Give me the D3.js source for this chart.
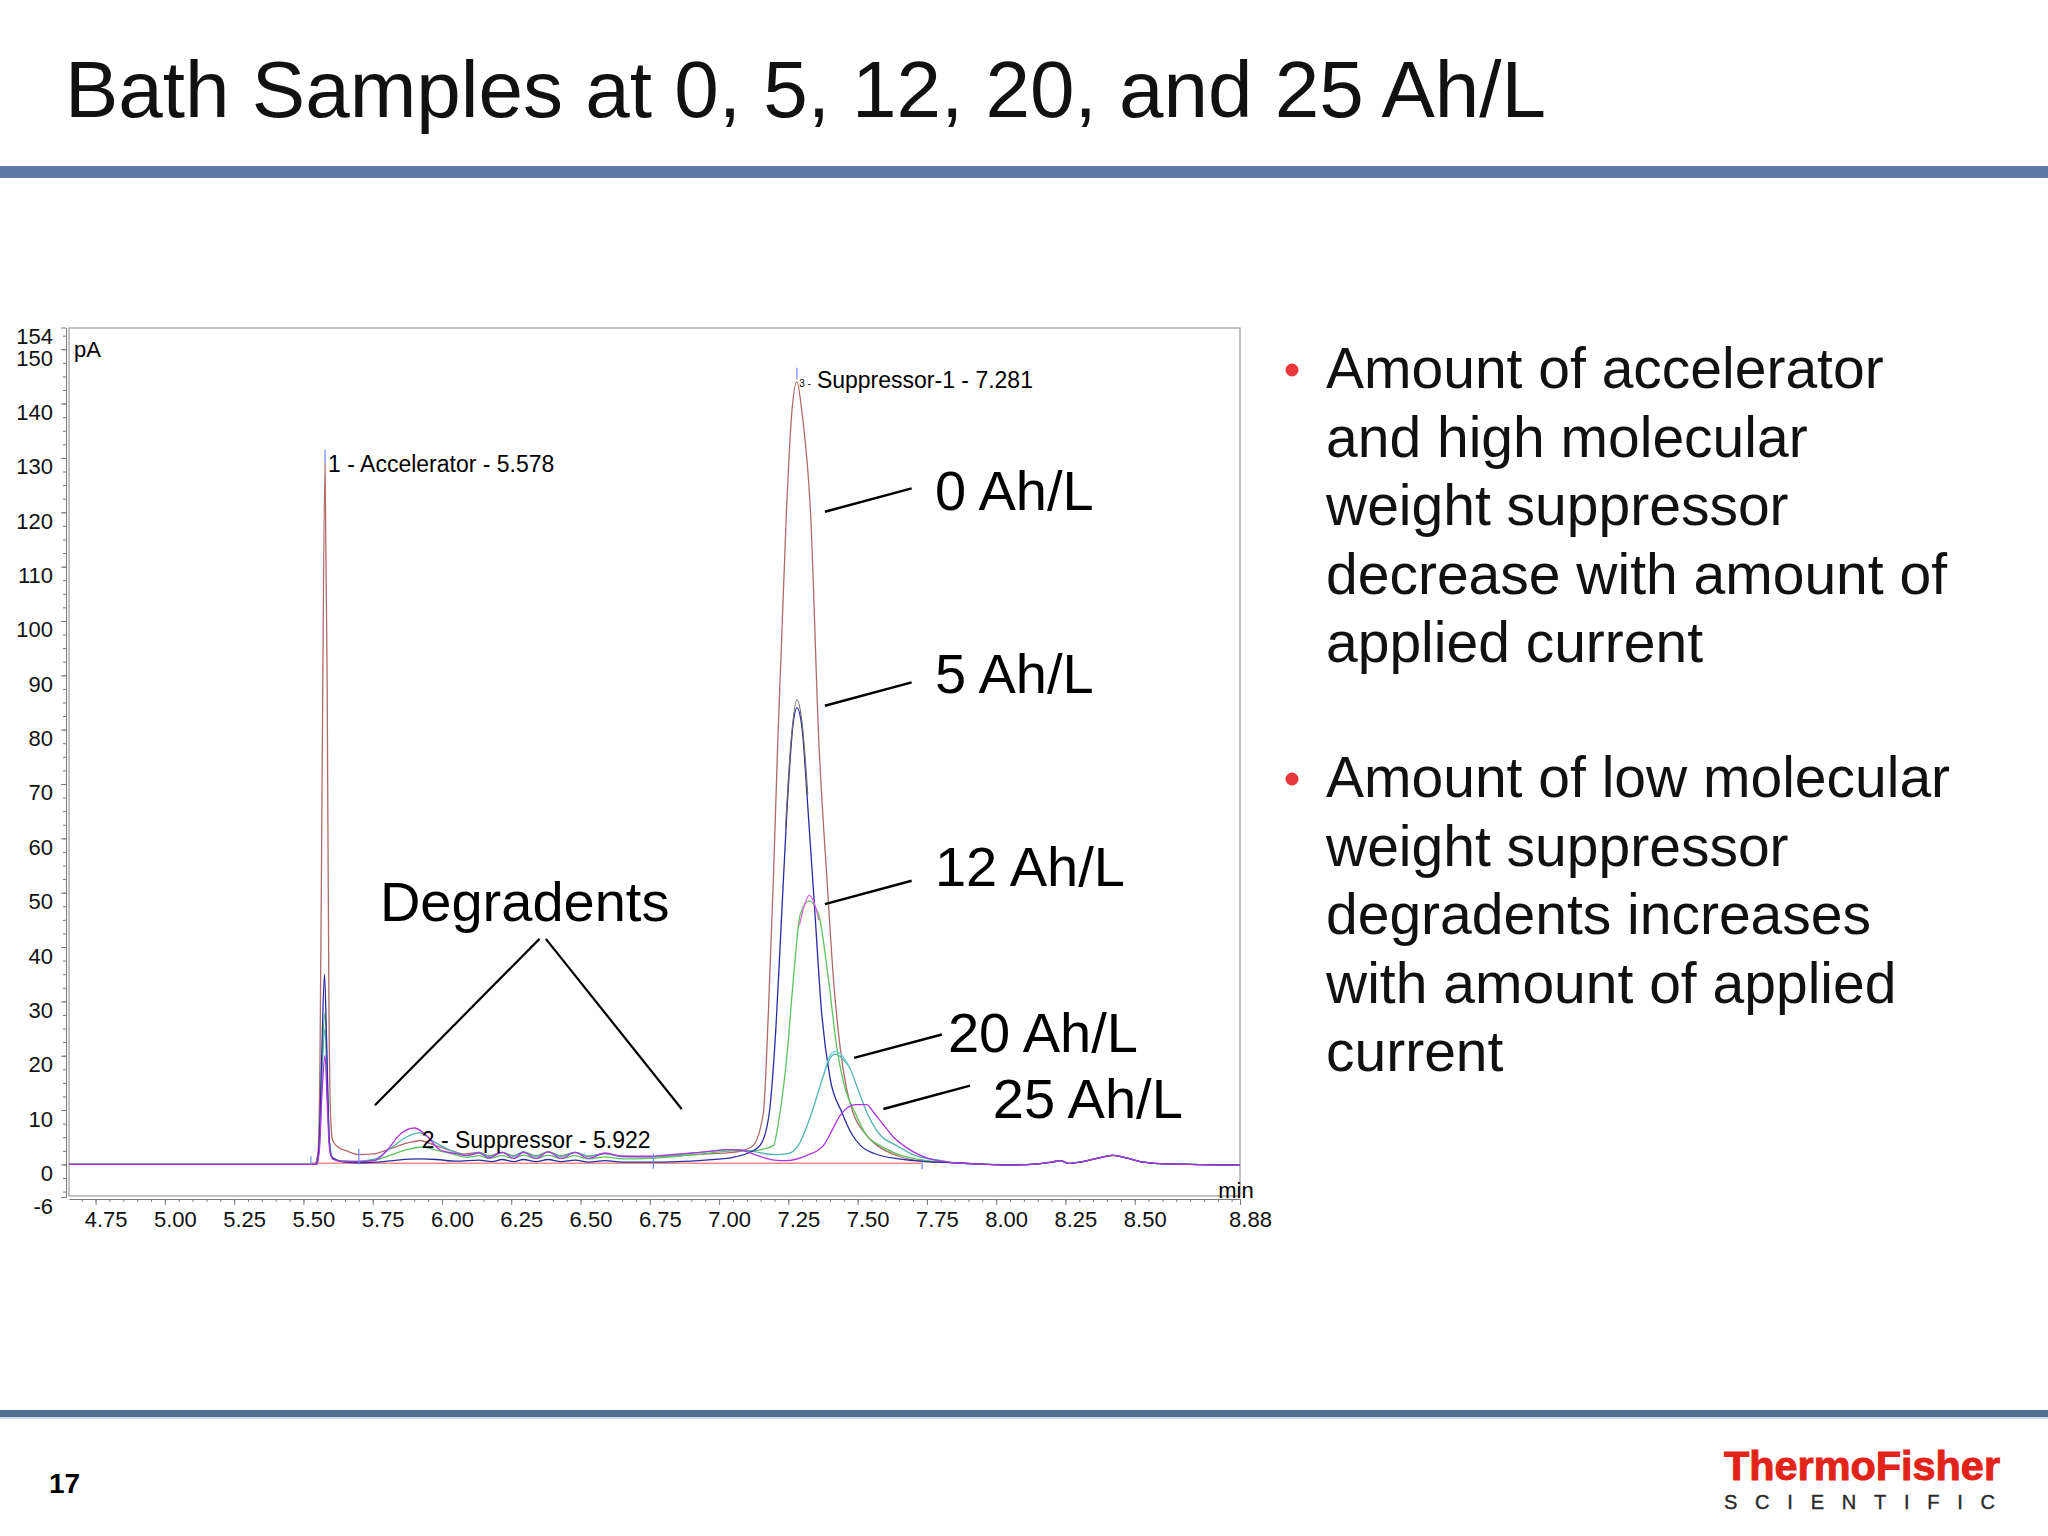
<!DOCTYPE html>
<html>
<head>
<meta charset="utf-8">
<script src="https://cdn.jsdelivr.net/npm/d3@7/dist/d3.min.js"></script>
<style>
  body { margin: 0; background: #fff; }
  svg { display: block; font-family: "Liberation Sans", Arial, sans-serif; }
</style>
</head>
<body>
<div id="chart"></div>
<script>
// flat start shared by every trace, and the late part where all traces overlap
let lead = [[4.654, 0], [5.30, 0], [5.53, 0]];
let tail = [[7.85, 0.3], [7.95, 0.05], [8.05, -0.1], [8.15, 0.1], [8.20, 0.4], [8.231, 0.7], [8.26, 0.2],
            [8.32, 0.6], [8.38, 1.3], [8.424, 1.65], [8.47, 1.2], [8.53, 0.4], [8.57, 0.2], [8.70, 0], [8.88, -0.1]];

// 0 Ah/L
let s0 = [[5.54, 0], [5.552, 2], [5.560, 20], [5.568, 75], [5.578, 129], [5.586, 85], [5.592, 30], [5.598, 9],
          [5.605, 4.5], [5.62, 3.4], [5.66, 2.4], [5.70, 1.8], [5.76, 2.0], [5.82, 3.0], [5.88, 4.0], [5.92, 4.4],
          [5.97, 3.6], [6.03, 2.6], [6.08, 1.9], [6.134, 2.2], [6.17, 1.6], [6.217, 2.2], [6.26, 1.6], [6.293, 2.3],
          [6.34, 1.6], [6.383, 2.3], [6.43, 1.6], [6.48, 2.2], [6.53, 1.5], [6.589, 2.0], [6.65, 1.5], [6.75, 1.4],
          [6.85, 1.6], [6.95, 1.9], [7.05, 2.2], [7.10, 2.8], [7.124, 3.5], [7.16, 9.6], [7.178, 28], [7.196, 52.5],
          [7.212, 78], [7.243, 120], [7.262, 138], [7.281, 144], [7.30, 138], [7.33, 120], [7.36, 78], [7.39, 52],
          [7.413, 34], [7.437, 21.5], [7.46, 14], [7.483, 9.6], [7.53, 5.5], [7.57, 3.5], [7.65, 1.5], [7.75, 0.5]];

// 5 Ah/L
let s5 = [[5.545, 0], [5.556, 3], [5.566, 20], [5.576, 35], [5.584, 22], [5.592, 6], [5.60, 1.5], [5.62, 0.8],
          [5.65, 0.4], [5.70, 0.3], [5.76, 0.4], [5.84, 0.8], [5.92, 1.0], [5.98, 0.9], [6.05, 0.6], [6.134, 0.8],
          [6.18, 0.5], [6.217, 0.9], [6.26, 0.5], [6.293, 0.9], [6.34, 0.5], [6.383, 0.9], [6.43, 0.5], [6.48, 0.8],
          [6.53, 0.4], [6.589, 0.7], [6.65, 0.4], [6.75, 0.4], [6.85, 0.5], [6.95, 0.8], [7.05, 1.3], [7.10, 2.0],
          [7.148, 3.5], [7.18, 9], [7.205, 25], [7.225, 45], [7.245, 65], [7.265, 80], [7.281, 84], [7.30, 80],
          [7.32, 66], [7.345, 47], [7.37, 28], [7.40, 16], [7.443, 9.6], [7.48, 5.5], [7.51, 3.5], [7.56, 2],
          [7.65, 1], [7.75, 0.5]];

// 12 Ah/L
let s12 = [[5.548, 0], [5.558, 4], [5.568, 20], [5.578, 28], [5.586, 16], [5.594, 4], [5.605, 1.2], [5.63, 0.7],
           [5.70, 0.5], [5.76, 0.8], [5.82, 1.8], [5.88, 2.8], [5.93, 3.2], [5.98, 2.6], [6.04, 1.9], [6.09, 1.3],
           [6.134, 1.6], [6.17, 1.1], [6.217, 1.6], [6.26, 1.1], [6.293, 1.7], [6.34, 1.1], [6.383, 1.7], [6.43, 1.1],
           [6.48, 1.6], [6.53, 1.0], [6.589, 1.4], [6.65, 1.0], [6.75, 1.1], [6.85, 1.5], [6.95, 2.0], [7.05, 2.5],
           [7.12, 2.5], [7.16, 2.8], [7.196, 3.5], [7.22, 9.6], [7.245, 20], [7.268, 34], [7.293, 46], [7.325, 48.5],
           [7.359, 46], [7.395, 34], [7.425, 21.5], [7.455, 14], [7.49, 9.6], [7.53, 5.5], [7.58, 3.5], [7.65, 1.8],
           [7.75, 0.7]];

// 20 Ah/L
let s20 = [[5.548, 0], [5.558, 4], [5.568, 18], [5.578, 25], [5.586, 14], [5.594, 4], [5.605, 1.2], [5.63, 0.6],
           [5.70, 0.6], [5.76, 1.0], [5.82, 3.2], [5.87, 5.0], [5.92, 5.8], [5.97, 4.2], [6.03, 2.6], [6.09, 1.7],
           [6.134, 2.2], [6.17, 1.5], [6.217, 2.2], [6.26, 1.5], [6.293, 2.3], [6.34, 1.5], [6.383, 2.3], [6.43, 1.5],
           [6.48, 2.2], [6.53, 1.5], [6.589, 2.0], [6.65, 1.4], [6.75, 1.4], [6.85, 1.8], [6.95, 2.3], [7.05, 2.7],
           [7.12, 2.4], [7.20, 1.8], [7.25, 2.0], [7.286, 3.5], [7.335, 9.6], [7.377, 16.4], [7.40, 19.5],
           [7.419, 20.3], [7.445, 19.5], [7.473, 17.6], [7.50, 14], [7.533, 9.6], [7.58, 5.5], [7.64, 3.5],
           [7.70, 1.8], [7.80, 0.7]];

// 25 Ah/L
let s25 = [[5.548, 0], [5.558, 3], [5.568, 14], [5.578, 20], [5.586, 11], [5.594, 3], [5.605, 1], [5.63, 0.6],
           [5.70, 0.5], [5.76, 0.8], [5.80, 2.5], [5.85, 5.6], [5.90, 6.7], [5.94, 5.5], [5.995, 2.6], [6.05, 2.0],
           [6.09, 1.6], [6.134, 2.1], [6.17, 1.2], [6.217, 2.2], [6.26, 1.1], [6.293, 2.2], [6.34, 1.1], [6.383, 2.3],
           [6.43, 1.1], [6.48, 2.2], [6.53, 1.1], [6.589, 2.1], [6.65, 1.5], [6.75, 1.5], [6.85, 1.9], [6.95, 2.3],
           [7.03, 2.7], [7.08, 2.6], [7.14, 1.6], [7.20, 0.8], [7.244, 0.7], [7.317, 1.65], [7.377, 3.5],
           [7.41, 6.5], [7.437, 9], [7.465, 10.5], [7.491, 11], [7.533, 11], [7.557, 9.6], [7.593, 7.3],
           [7.63, 5], [7.665, 3.5], [7.75, 1.2]];

// second injections, only visible near the apex of peak 3
let rep5 = [[7.24, 62], [7.26, 78], [7.281, 85.5], [7.30, 81], [7.32, 68]];
let rep12 = [[7.29, 44], [7.31, 48], [7.325, 49.5], [7.34, 48.5], [7.36, 45]];
let rep20 = [[7.38, 17], [7.40, 20], [7.419, 20.8], [7.44, 20.3], [7.47, 18]];

// integration baseline and peak delimiters [time, from, to]
let baseSeg = [[5.53, 0.2], [7.73, 0.2]];
let delimiters = [[5.527, 0, 1.5], [5.70, 0, 2.9], [6.763, -0.8, 2], [7.733, -0.9, 0.4],
                  [5.578, 129, 131.5], [7.281, 144.5, 146.6]];

let sampleNames = ['0 Ah/L', '5 Ah/L', '12 Ah/L', '20 Ah/L', '25 Ah/L'];
// leader [t1, v1, t2, v2] and text anchor [t, v]
let leaders = [[7.382, 120.1, 7.695, 124.4], [7.382, 84.4, 7.695, 88.7], [7.382, 47.9, 7.695, 52.2],
               [7.487, 19.6, 7.804, 23.9], [7.593, 10.2, 7.906, 14.5]];
let nameAt = [[7.779, 120.4], [7.779, 86.7], [7.779, 51.3], [7.826, 20.7], [7.988, 8.5]];

let xMajor = [4.75, 5.00, 5.25, 5.50, 5.75, 6.00, 6.25, 6.50, 6.75, 7.00, 7.25, 7.50, 7.75, 8.00, 8.25, 8.50, 8.88];
let yMajor = [-6, 0, 10, 20, 30, 40, 50, 60, 70, 80, 90, 100, 110, 120, 130, 140, 150, 154];

let bullet1 = ['Amount of accelerator', 'and high molecular', 'weight suppressor', 'decrease with amount of', 'applied current'];
let bullet2 = ['Amount of low molecular', 'weight suppressor', 'degradents increases', 'with amount of applied', 'current'];

const W = 2048, H = 1536;
let svg = d3.select('#chart').append('svg').attr('width', W).attr('height', H);
svg.append('rect').attr('width', W).attr('height', H).attr('fill', '#fff');

// slide frame
svg.append('text').attr('x', 65).attr('y', 117).attr('font-size', 80).attr('fill', '#111')
    .text('Bath Samples at 0, 5, 12, 20, and 25 Ah/L');
svg.append('rect').attr('x', 0).attr('y', 166).attr('width', W).attr('height', 12).attr('fill', '#5a7ca6');
svg.append('rect').attr('x', 0).attr('y', 1410).attr('width', W).attr('height', 7).attr('fill', '#4f6f94');
svg.append('rect').attr('x', 0).attr('y', 1417).attr('width', W).attr('height', 2).attr('fill', '#cddbea');
svg.append('text').attr('x', 49).attr('y', 1493).attr('font-size', 28).attr('font-weight', 'bold').text('17');
svg.append('text').attr('x', 1724).attr('y', 1480).attr('font-size', 41).attr('font-weight', 'bold')
    .attr('fill', '#e2231a').attr('stroke', '#e2231a').attr('stroke-width', 1)
    .attr('textLength', 276).attr('lengthAdjust', 'spacingAndGlyphs').text('ThermoFisher');
svg.append('text').attr('x', 1724).attr('y', 1509).attr('font-size', 20).attr('fill', '#2a2a2a')
    .attr('stroke', '#2a2a2a').attr('stroke-width', 0.4)
    .attr('textLength', 271).attr('lengthAdjust', 'spacing').text('SCIENTIFIC');

// bullets
[[bullet1, 388], [bullet2, 797]].forEach(([lines, y0]) => {
    svg.append('circle').attr('cx', 1292).attr('cy', y0 - 18).attr('r', 6.5).attr('fill', '#e8383d');
    svg.append('text').attr('font-size', 57).attr('fill', '#111')
        .selectAll('tspan').data(lines).enter().append('tspan')
        .attr('x', 1326).attr('y', (d, i) => y0 + i * 68.6).text(d => d);
});

// chromatogram
let x = d3.scaleLinear().domain([4.654, 8.88]).range([69, 1240]);
let y = d3.scaleLinear().domain([-6, 154]).range([1197, 327.5]);

svg.append('rect').attr('x', 69).attr('y', 328).attr('width', 1171).attr('height', 868)
    .attr('fill', 'none').attr('stroke', '#9a9a9a').attr('stroke-width', 1.2);

let xAxis = svg.append('g').attr('transform', 'translate(0,1199)')
    .call(d3.axisBottom(x).tickValues(d3.range(4.70, 8.86, 0.05)).tickSize(3).tickSizeOuter(0).tickFormat(''));
let xAxis2 = svg.append('g').attr('transform', 'translate(0,1199)')
    .call(d3.axisBottom(x).tickValues(xMajor).tickSize(6).tickSizeOuter(0).tickFormat(d3.format('.2f')));
xAxis2.selectAll('text').attr('dy', null).attr('y', 28).attr('dx', 10).attr('font-size', 22)
    .attr('font-family', '"Liberation Sans", Arial, sans-serif').attr('fill', '#111');

let yAxis = svg.append('g').attr('transform', 'translate(66,0)')
    .call(d3.axisLeft(y).tickValues(d3.range(-5, 153, 2.5)).tickSize(3).tickSizeOuter(0).tickFormat(''));
let yAxis2 = svg.append('g').attr('transform', 'translate(66,0)')
    .call(d3.axisLeft(y).tickValues(yMajor).tickSize(5).tickSizeOuter(0).tickFormat(d => String(d)));
yAxis2.selectAll('text').attr('dy', null).attr('y', 16).attr('x', -13).attr('font-size', 22)
    .attr('font-family', '"Liberation Sans", Arial, sans-serif').attr('fill', '#111');
svg.selectAll('.domain, .tick line').attr('stroke', '#7a7a7a');

svg.append('text').attr('x', 74).attr('y', 357).attr('font-size', 22).text('pA');
svg.append('text').attr('x', 1236).attr('y', 1198).attr('font-size', 22).attr('text-anchor', 'middle').text('min');

let line = d3.line().x(d => x(d[0])).y(d => y(d[1])).curve(d3.curveMonotoneX);

svg.append('path').attr('d', line(baseSeg)).attr('fill', 'none').attr('stroke', '#f08c8c').attr('stroke-width', 1.6);

let traces = [
    {data: s0, color: '#b06a6a'},
    {data: s12, color: '#5cc45c'},
    {data: s20, color: '#4fb3aa'},
    {data: s5, color: '#2b2ba3'},
    {data: s25, color: '#b034e2'}
];
traces.forEach(t => {
    svg.append('path').attr('d', line(lead.concat(t.data, tail)))
        .attr('fill', 'none').attr('stroke', t.color).attr('stroke-width', 1.3);
});
[[rep5, '#6b6b6b'], [rep12, '#e060e0'], [rep20, '#66d2e0']].forEach(([d, c]) => {
    svg.append('path').attr('d', line(d)).attr('fill', 'none').attr('stroke', c).attr('stroke-width', 1.2);
});

svg.selectAll('.delim').data(delimiters).enter().append('line')
    .attr('x1', d => x(d[0])).attr('x2', d => x(d[0]))
    .attr('y1', d => y(d[1])).attr('y2', d => y(d[2]))
    .attr('stroke', '#7a8cff').attr('stroke-width', 1.3);

// peak labels
svg.append('text').attr('x', x(5.589)).attr('y', y(127.5)).attr('font-size', 23).text('1 - Accelerator - 5.578');
svg.append('text').attr('x', x(7.289)).attr('y', y(143.1)).attr('font-size', 10).text('3 -');
svg.append('text').attr('x', x(7.353)).attr('y', y(142.8)).attr('font-size', 23).text('Suppressor-1 - 7.281');
svg.append('text').attr('x', x(5.927)).attr('y', y(2.96)).attr('font-size', 23).text('2 - Suppressor - 5.922');

// sample annotations
svg.selectAll('.leader').data(leaders).enter().append('line')
    .attr('x1', d => x(d[0])).attr('y1', d => y(d[1])).attr('x2', d => x(d[2])).attr('y2', d => y(d[3]))
    .attr('stroke', '#000').attr('stroke-width', 2.5);
svg.selectAll('.sname').data(sampleNames).enter().append('text')
    .attr('x', (d, i) => x(nameAt[i][0])).attr('y', (d, i) => y(nameAt[i][1]))
    .attr('font-size', 56).attr('fill', '#000').text(d => d);

svg.append('text').attr('x', x(5.776)).attr('y', y(44.8)).attr('font-size', 56).text('Degradents');
[[6.352, 41.5, 5.758, 10.9], [6.375, 41.5, 6.865, 10.2]].forEach(d => {
    svg.append('line').attr('x1', x(d[0])).attr('y1', y(d[1])).attr('x2', x(d[2])).attr('y2', y(d[3]))
        .attr('stroke', '#000').attr('stroke-width', 2.2);
});
</script>
</body>
</html>
